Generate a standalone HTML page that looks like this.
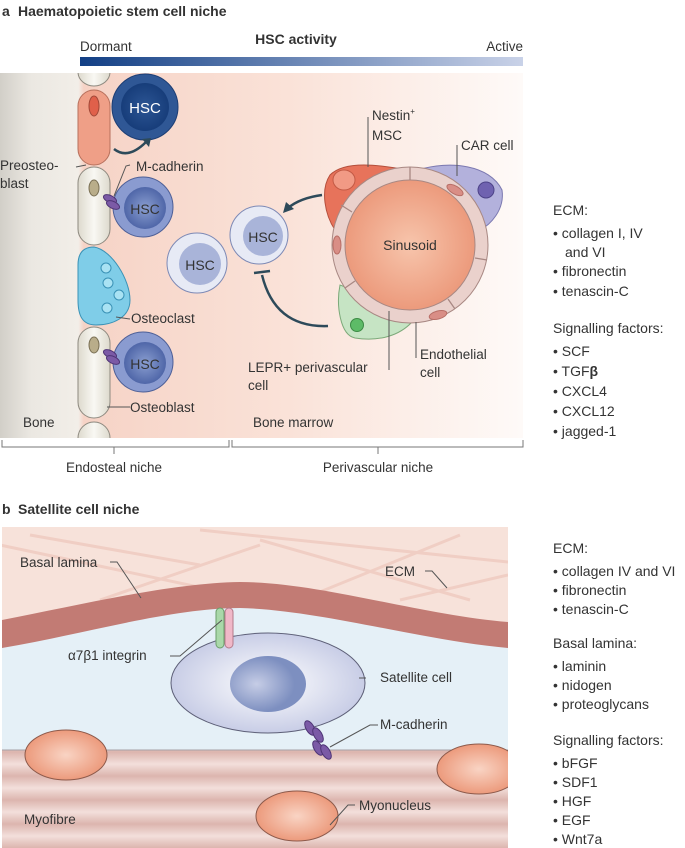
<!DOCTYPE html>
<html><head><meta charset="utf-8"><style>
body{margin:0;background:#fff}
svg{display:block;font-family:"Liberation Sans",sans-serif}
text{fill:#333}
</style></head><body>
<svg width="685" height="848" viewBox="0 0 685 848" xmlns="http://www.w3.org/2000/svg">
<defs>
<linearGradient id="bar" x1="0" x2="1"><stop offset="0" stop-color="#123f85"/><stop offset="1" stop-color="#c9d2e8"/></linearGradient>
<linearGradient id="bgA" x1="0" x2="1"><stop offset="0" stop-color="#d2cfc8"/><stop offset="0.06" stop-color="#ebe8e2"/><stop offset="0.15" stop-color="#f2eee8"/><stop offset="0.16" stop-color="#f6d3c6"/><stop offset="0.55" stop-color="#fae2d8"/><stop offset="1" stop-color="#fefaf8"/></linearGradient>
<radialGradient id="hscD"><stop offset="0" stop-color="#2c5594"/><stop offset="1" stop-color="#173d7a"/></radialGradient>
<radialGradient id="hscM"><stop offset="0" stop-color="#8a9ed0"/><stop offset="1" stop-color="#4f66a8"/></radialGradient>
<radialGradient id="sin" cx="0.5" cy="0.5"><stop offset="0" stop-color="#f7c5ac"/><stop offset="1" stop-color="#ec9a7c"/></radialGradient>
<linearGradient id="obl" x1="0" x2="1"><stop offset="0" stop-color="#ddd9cd"/><stop offset="0.5" stop-color="#f9f8f3"/><stop offset="1" stop-color="#ddd9cd"/></linearGradient>
<linearGradient id="str" x1="0" y1="0" x2="0" y2="1"><stop offset="0" stop-color="#dcb5ae"/><stop offset="0.5" stop-color="#f3dfdb"/><stop offset="1" stop-color="#dcb5ae"/></linearGradient>
<pattern id="stripes" x="0" y="752" width="10" height="24" patternUnits="userSpaceOnUse"><rect width="10" height="24" fill="url(#str)"/></pattern>
<radialGradient id="nuc"><stop offset="0" stop-color="#f9d4c4"/><stop offset="1" stop-color="#ec9a7c"/></radialGradient>
<radialGradient id="sat"><stop offset="0" stop-color="#ffffff"/><stop offset="1" stop-color="#c8cde6"/></radialGradient>
<radialGradient id="satn" cx="0.35"><stop offset="0" stop-color="#c6cde6"/><stop offset="1" stop-color="#7d8fc0"/></radialGradient>
<clipPath id="cb"><rect x="2" y="527" width="506" height="321"/></clipPath>
<clipPath id="ca"><rect x="0" y="73" width="523" height="365"/></clipPath>
</defs>

<text x="2" y="16" font-size="14" font-weight="bold" fill="#222">a</text>
<text x="18" y="16" font-size="14" font-weight="bold" fill="#222">Haematopoietic stem cell niche</text>
<text x="80" y="51" font-size="13.5">Dormant</text>
<text x="296" y="44" font-size="14" font-weight="bold" text-anchor="middle">HSC activity</text>
<text x="523" y="51" font-size="13.5" text-anchor="end">Active</text>
<rect x="80" y="57" width="443" height="9" fill="url(#bar)"/>

<rect x="0" y="73" width="523" height="365" fill="url(#bgA)"/>
<g clip-path="url(#ca)">
<rect x="78" y="58" width="32" height="28" rx="16" fill="url(#obl)" stroke="#8d897f"/>
<rect x="78" y="90" width="32" height="75" rx="16" fill="#ef9f87" stroke="#b7705c"/>
<ellipse cx="94" cy="106" rx="5" ry="10" fill="#e0604a" stroke="#a04838"/>
<rect x="78" y="167" width="32" height="78" rx="16" fill="url(#obl)" stroke="#8d897f"/>
<ellipse cx="94" cy="188" rx="5" ry="8" fill="#b9ad8a" stroke="#7b7156"/>
<path d="M94 247 C112 250 130 280 130 300 C130 318 112 325 96 325 C82 325 78 315 78 300 L78 265 C78 252 84 247 94 247 Z" fill="#7fcde8" stroke="#3a92b6"/>
<circle cx="106" cy="268" r="5" fill="#a9e2f3" stroke="#3a92b6"/>
<circle cx="108" cy="283" r="5" fill="#a9e2f3" stroke="#3a92b6"/>
<circle cx="119" cy="295" r="5" fill="#a9e2f3" stroke="#3a92b6"/>
<circle cx="107" cy="308" r="5" fill="#a9e2f3" stroke="#3a92b6"/>
<rect x="78" y="327" width="32" height="91" rx="16" fill="url(#obl)" stroke="#8d897f"/>
<ellipse cx="94" cy="345" rx="5" ry="8" fill="#b9ad8a" stroke="#7b7156"/>
<rect x="78" y="422" width="32" height="40" rx="16" fill="url(#obl)" stroke="#8d897f"/>
</g>
<circle cx="145" cy="107" r="33" fill="#2f5795" stroke="#1d3e74"/>
<circle cx="145" cy="107" r="24" fill="url(#hscD)"/>
<text x="145" y="113" font-size="15" text-anchor="middle" style="fill:#fff">HSC</text>
<path d="M114 149 Q128 160 146 142" fill="none" stroke="#2d4a5a" stroke-width="2.5"/>
<path d="M142 139 L151 138 L149 147 Z" fill="#2d4a5a"/>
<circle cx="143" cy="207" r="30" fill="#8a9bd0" stroke="#4d5f97"/>
<circle cx="145" cy="208" r="21" fill="url(#hscM)"/>
<text x="145" y="214" font-size="14" text-anchor="middle" fill="#222">HSC</text>
<circle cx="143" cy="362" r="30" fill="#8a9bd0" stroke="#4d5f97"/>
<circle cx="145" cy="363" r="21" fill="url(#hscM)"/>
<text x="145" y="369" font-size="14" text-anchor="middle" fill="#222">HSC</text>
<ellipse cx="110" cy="199" rx="7" ry="3.5" fill="#7b5aa6" stroke="#4e3475" transform="rotate(25 110 199)"/>
<ellipse cx="113" cy="205" rx="7" ry="3.5" fill="#7b5aa6" stroke="#4e3475" transform="rotate(25 113 205)"/>
<ellipse cx="110" cy="354" rx="7" ry="3.5" fill="#7b5aa6" stroke="#4e3475" transform="rotate(25 110 354)"/>
<ellipse cx="113" cy="360" rx="7" ry="3.5" fill="#7b5aa6" stroke="#4e3475" transform="rotate(25 113 360)"/>
<circle cx="197" cy="263" r="30" fill="#e7eaf5" stroke="#7d89b5"/>
<circle cx="200" cy="264" r="21" fill="#a9b4d9"/>
<text x="200" y="270" font-size="14" text-anchor="middle">HSC</text>
<circle cx="259" cy="235" r="29" fill="#e7eaf5" stroke="#7d89b5"/>
<circle cx="263" cy="236" r="20" fill="#a9b4d9"/>
<text x="263" y="242" font-size="14" text-anchor="middle">HSC</text>
<path d="M322 195 Q300 198 288 208" fill="none" stroke="#2d4a5a" stroke-width="2.5"/>
<path d="M283 213 L286 202 L294 209 Z" fill="#2d4a5a"/>
<path d="M328 326 Q275 328 262 275" fill="none" stroke="#2d4a5a" stroke-width="2.5"/>
<line x1="254" y1="273" x2="270" y2="271" stroke="#2d4a5a" stroke-width="2.5"/>

<path d="M407 170 C380 165 345 160 330 175 C320 190 325 215 335 230 L360 215 Z" fill="#e7735b" stroke="#b44f3c"/>
<ellipse cx="344" cy="180" rx="11" ry="10" fill="#f19a85" stroke="#c35a45"/>
<path d="M418 170 C450 160 490 165 502 190 C505 210 490 225 480 230 L460 200 Z" fill="#b3b1dc" stroke="#7b78b0"/>
<circle cx="486" cy="190" r="8" fill="#6f62b0" stroke="#4d4388"/>
<path d="M340 285 C336 305 340 335 355 338 C380 342 400 335 412 322 L380 300 Z" fill="#c6e4c4" stroke="#7ca979"/>
<circle cx="357" cy="325" r="6.5" fill="#5dbb67" stroke="#3c8a44"/>
<circle cx="410" cy="245" r="78" fill="#ead1cc" stroke="#a88883"/>
<g stroke="#a88883" stroke-width="1.3">
<line x1="410" y1="167" x2="410" y2="180"/>
<line x1="345" y1="288" x2="355" y2="281"/>
<line x1="455" y1="309" x2="448" y2="299"/>
<line x1="487" y1="260" x2="475" y2="258"/>
<line x1="341" y1="205" x2="352" y2="212"/>
</g>
<circle cx="410" cy="245" r="65" fill="url(#sin)" stroke="#a88883"/>
<ellipse cx="455" cy="190" rx="9" ry="4" fill="#d98e86" stroke="#b86e66" transform="rotate(30 455 190)"/>
<ellipse cx="337" cy="245" rx="4" ry="9" fill="#d98e86" stroke="#b86e66"/>
<ellipse cx="438" cy="315" rx="9" ry="4" fill="#d98e86" stroke="#b86e66" transform="rotate(-15 438 315)"/>
<text x="410" y="250" font-size="14" text-anchor="middle">Sinusoid</text>

<g stroke="#555" fill="none" stroke-width="1">
<line x1="368" y1="117" x2="368" y2="167"/>
<line x1="457" y1="145" x2="457" y2="176"/>
<line x1="416" y1="322" x2="416" y2="358"/>
<line x1="389" y1="311" x2="389" y2="370"/>
<line x1="76" y1="167" x2="86" y2="165"/>
<path d="M130 165 L126 166 L114 196"/>
<line x1="130" y1="319" x2="116" y2="317"/>
<line x1="130" y1="407" x2="107" y2="407"/>
</g>
<text x="372" y="120" font-size="13.5">Nestin<tspan font-size="8" dy="-6">+</tspan></text>
<text x="372" y="140" font-size="13.5">MSC</text>
<text x="461" y="150" font-size="13.5">CAR cell</text>
<text x="0" y="170" font-size="13.5">Preosteo-</text>
<text x="0" y="188" font-size="13.5">blast</text>
<text x="136" y="171" font-size="13.5">M-cadherin</text>
<text x="131" y="323" font-size="13.5">Osteoclast</text>
<text x="130" y="412" font-size="13.5">Osteoblast</text>
<text x="23" y="427" font-size="13.5">Bone</text>
<text x="248" y="372" font-size="13.5">LEPR+ perivascular</text>
<text x="248" y="390" font-size="13.5">cell</text>
<text x="420" y="359" font-size="13.5">Endothelial</text>
<text x="420" y="377" font-size="13.5">cell</text>
<text x="253" y="427" font-size="13.5">Bone marrow</text>

<g stroke="#777" fill="none">
<path d="M2 440 V447 H229 V440"/>
<line x1="114" y1="447" x2="114" y2="454"/>
<path d="M232 440 V447 H523 V440"/>
<line x1="378" y1="447" x2="378" y2="454"/>
</g>
<text x="114" y="472" font-size="13.5" text-anchor="middle">Endosteal niche</text>
<text x="378" y="472" font-size="13.5" text-anchor="middle">Perivascular niche</text>

<g font-size="14">
<text x="553" y="215">ECM:</text>
<text x="553" y="238">• collagen I, IV</text>
<text x="565" y="257">and VI</text>
<text x="553" y="276">• fibronectin</text>
<text x="553" y="296">• tenascin-C</text>
<text x="553" y="333">Signalling factors:</text>
<text x="553" y="356">• SCF</text>
<text x="553" y="376">• TGF<tspan font-weight="bold">β</tspan></text>
<text x="553" y="396">• CXCL4</text>
<text x="553" y="416">• CXCL12</text>
<text x="553" y="436">• jagged-1</text>
</g>

<text x="2" y="514" font-size="14" font-weight="bold" fill="#222">b</text>
<text x="18" y="514" font-size="14" font-weight="bold" fill="#222">Satellite cell niche</text>
<g clip-path="url(#cb)">
<rect x="2" y="527" width="506" height="321" fill="#e5f0f7"/>
<path d="M2 527 H508 V640 C420 630 320 595 240 595 C170 595 80 620 2 635 Z" fill="#f7e2da"/>
<g stroke="#efcabf" stroke-width="3" opacity="0.8">
<line x1="0" y1="545" x2="260" y2="600"/>
<line x1="30" y1="535" x2="200" y2="565"/>
<line x1="200" y1="530" x2="508" y2="562"/>
<line x1="260" y1="540" x2="470" y2="600"/>
<line x1="400" y1="600" x2="508" y2="575"/>
<line x1="100" y1="600" x2="260" y2="545"/>
<line x1="300" y1="600" x2="460" y2="535"/>
</g>
<path d="M2 620 C80 605 170 583 240 582 C320 582 420 615 508 622 L508 648 C420 640 320 610 240 608 C170 608 80 635 2 648 Z" fill="#c27b74"/>
<rect x="2" y="750" width="506" height="98" fill="url(#stripes)"/>
<line x1="2" y1="750" x2="508" y2="750" stroke="#a5a0a5"/>
<ellipse cx="268" cy="683" rx="97" ry="50" fill="url(#sat)" stroke="#5d5f77"/>
<ellipse cx="268" cy="684" rx="38" ry="28" fill="url(#satn)"/>
<rect x="216" y="608" width="8" height="40" rx="4" fill="#a9d8a9" stroke="#6a9e6a"/>
<rect x="225" y="608" width="8" height="40" rx="4" fill="#f0b8c8" stroke="#b47a8a"/>
<g fill="#7b5aa6" stroke="#4e3475">
<ellipse cx="310" cy="728" rx="4" ry="8" transform="rotate(-30 310 728)"/>
<ellipse cx="318" cy="735" rx="4" ry="8" transform="rotate(-30 318 735)"/>
<ellipse cx="318" cy="748" rx="4" ry="8" transform="rotate(-30 318 748)"/>
<ellipse cx="326" cy="752" rx="4" ry="8" transform="rotate(-30 326 752)"/>
</g>
<ellipse cx="66" cy="755" rx="41" ry="25" fill="url(#nuc)" stroke="#8d5a4b"/>
<ellipse cx="297" cy="816" rx="41" ry="25" fill="url(#nuc)" stroke="#8d5a4b"/>
<ellipse cx="479" cy="769" rx="42" ry="25" fill="url(#nuc)" stroke="#8d5a4b"/>
</g>
<g stroke="#555" fill="none">
<path d="M110 562 L117 562 L141 598"/>
<path d="M425 571 L432 571 L447 588"/>
<path d="M170 656 L180 656 L222 620"/>
<line x1="359" y1="678" x2="366" y2="678"/>
<path d="M378 725 L370 725 L330 747"/>
<path d="M355 805 L348 805 L330 825"/>
</g>
<text x="20" y="567" font-size="13.5">Basal lamina</text>
<text x="385" y="576" font-size="13.5">ECM</text>
<text x="68" y="660" font-size="13.5">α7β1 integrin</text>
<text x="380" y="682" font-size="13.5">Satellite cell</text>
<text x="380" y="729" font-size="13.5">M-cadherin</text>
<text x="359" y="810" font-size="13.5">Myonucleus</text>
<text x="24" y="824" font-size="13.5">Myofibre</text>

<g font-size="14">
<text x="553" y="553">ECM:</text>
<text x="553" y="576">• collagen IV and VI</text>
<text x="553" y="595">• fibronectin</text>
<text x="553" y="614">• tenascin-C</text>
<text x="553" y="648">Basal lamina:</text>
<text x="553" y="671">• laminin</text>
<text x="553" y="690">• nidogen</text>
<text x="553" y="709">• proteoglycans</text>
<text x="553" y="745">Signalling factors:</text>
<text x="553" y="768">• bFGF</text>
<text x="553" y="787">• SDF1</text>
<text x="553" y="806">• HGF</text>
<text x="553" y="825">• EGF</text>
<text x="553" y="844">• Wnt7a</text>
</g>
</svg>
</body></html>
